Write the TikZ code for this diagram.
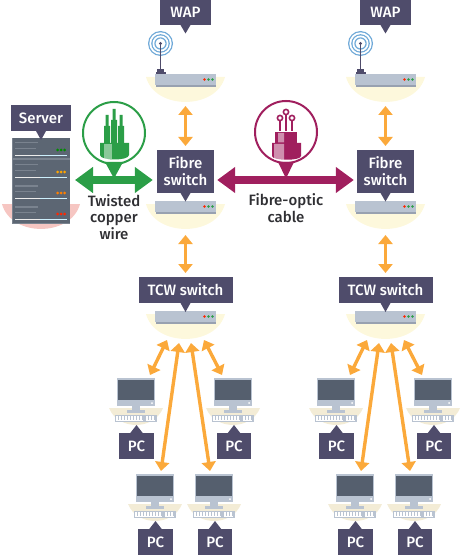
\documentclass[tikz,border=0pt]{standalone}
\usepackage{fontspec}
\setmainfont[BoldFont={Fira Sans Medium}]{Fira Sans}
\usetikzlibrary{arrows.meta}
\definecolor{lab}{HTML}{4F4C6B}
\definecolor{orangeA}{HTML}{FBA93B}
\definecolor{greenA}{HTML}{2B9E47}
\definecolor{purpA}{HTML}{A01F5E}
\definecolor{dev}{HTML}{B9C3D1}
\definecolor{devd}{HTML}{98A1B0}
\definecolor{bowlY}{HTML}{FDF8DC}
\definecolor{bowlP}{HTML}{F6C6C2}
\definecolor{bowlB}{HTML}{F3ECD6}
\definecolor{scr}{HTML}{555F6E}
\definecolor{rack}{HTML}{5C6673}
\definecolor{rackd}{HTML}{7A838F}
\definecolor{txt}{HTML}{2F2F33}
\definecolor{ringb}{HTML}{6FA9D8}
\tikzset{
  labelbox/.style={fill=lab,text=white,inner sep=0pt,align=center,font=\fontsize{15}{17}\selectfont\bfseries},
  plain/.style={text=txt,inner sep=0pt,align=center,font=\fontsize{15}{16.5}\selectfont\bfseries},
  orangearrow/.style={draw=orangeA,line width=3.4pt,{Triangle[length=9pt,width=14pt]}-{Triangle[length=9pt,width=14pt]}},
  bigarrow/.style={line width=8pt,{Triangle[length=18pt,width=25pt]}-{Triangle[length=18pt,width=25pt]}},
}
\newcommand{\bowlshape}[5]{\fill[#5] ({#1-#3},#2) .. controls ({#1-#3+9},{#2+#4*1.33}) and ({#1+#3-9},{#2+#4*1.33}) .. ({#1+#3},#2) -- cycle;}
\newcommand{\routerbody}[2]{%
  \bowlshape{#1}{#2+3}{39.5}{25}{bowlY}
  \fill[devd] ({#1-30},{#2+3}) rectangle ({#1+30},{#2+13}) ;
  \fill[dev] ({#1-30.5},#2) rectangle ({#1+30.5},{#2+11});
  \fill[red!70!orange] ({#1+19},{#2+5.5}) circle[radius=1.4pt];
  \fill[greenA] ({#1+23},{#2+5.5}) circle[radius=1.4pt];
  \fill[greenA] ({#1+27},{#2+5.5}) circle[radius=1.4pt];}
\newcommand{\tip}[4]{\fill[lab] ({#1-#3},#2) -- (#1,#4) -- ({#1+#3},#2) -- cycle;}
\newcommand{\pcunit}[4]{%
  \bowlshape{#2}{#3+30}{27}{17}{bowlB}
  \fill[dev] ({#2-4},{#3+27}) rectangle ({#2+4},{#3+33});
  \fill[dev] ({#2-9},{#3+32}) rectangle ({#2+9},{#3+35});
  \fill[dev] ({#2-19},#3) rectangle ({#2+19},{#3+28});
  \fill[scr] ({#2-18},{#3+1.5}) rectangle ({#2+18},{#3+22});
  \fill[white] ({#2+16},{#3+25}) circle[radius=1pt];
  \fill[dev] ({#2-21},{#3+37}) rectangle ({#2+21},{#3+44});
  \fill[white] ({#2-20},{#3+37.5}) rectangle ({#2+7},{#3+42.5});
  \fill[white] ({#2+10},{#3+37.5}) rectangle ({#2+19},{#3+42.5});
  \foreach \k in {-18,-15,...,6}{\fill[dev] ({#2+\k},{#3+38}) rectangle ({#2+\k+0.8},{#3+41.5});}
  \foreach \k in {12,15,18}{\fill[dev] ({#2+\k},{#3+38}) rectangle ({#2+\k+0.8},{#3+41.5});}
  \coordinate (#1port) at (#2,{#3-3});
  \node[labelbox,minimum width=34.5pt,minimum height=26pt] (#1) at (#4,{#3+68}) {PC};
  \fill[lab] ({#4-7},{#3+56}) -- (#4,{#3+47}) -- ({#4+7},{#3+56}) -- cycle;}
\newcommand{\wing}[1]{%
  \node[labelbox,minimum width=51pt,minimum height=26pt] (#1wap) at (185.5,12.5) {WAP};
  \tip{185.5}{25}{5}{33.5}
  \routerbody{185.5}{74}
  \foreach \r/\c in {12.5/ringb,11.2/white,9.3/ringb,8/white,6.2/ringb,5/white}{\fill[\c] (160.5,43.5) circle[radius=\r pt];}
  \draw[lab,line width=1.4pt] (160.5,43.5) -- (160.5,70);
  \fill[lab] (160.5,43.5) circle[radius=1.6pt];
  \fill[lab] (157,69) rectangle (164,72);
  \fill[lab] (155.5,72) rectangle (165.5,74.5);
  \coordinate (#1wapdown) at (185.5,106);
  \routerbody{185.5}{201}
  \node[labelbox,minimum width=57pt,minimum height=43pt] (#1fib) at (185.5,171.5) {Fibre\\switch};
  \tip{185.5}{193}{5}{201.5}
  \coordinate (#1fibup) at (185.5,146);
  \coordinate (#1fibdown) at (185.5,235);
  \routerbody{185.5}{311}
  \node[labelbox,minimum width=94pt,minimum height=26pt] (#1tcw) at (185.5,290) {TCW switch};
  \tip{185.5}{303}{5}{312}
  \coordinate (#1tcwup) at (185.5,273);
  \coordinate (#1a) at (167,340);
  \coordinate (#1b) at (179,343);
  \coordinate (#1c) at (191,343);
  \coordinate (#1d) at (204,340);
  \pcunit{#1p}{136}{378}{136.5}
  \pcunit{#1q}{233}{378}{234}
  \pcunit{#1r}{155}{474}{155.5}
  \pcunit{#1s}{214}{474}{215}
  \draw[orangearrow] (#1wapdown) -- (#1fibup);
  \draw[orangearrow] (#1fibdown) -- (#1tcwup);
  \draw[orangearrow] (#1a) -- ([xshift=14pt]#1pport);
  \draw[orangearrow] (#1d) -- ([xshift=-11pt]#1qport);
  \draw[orangearrow] (#1b) -- ([xshift=6pt]#1rport);
  \draw[orangearrow] (#1c) -- ([xshift=-4pt]#1sport);}
\begin{document}
\begin{tikzpicture}[x=1pt,y=-1pt]
\useasboundingbox (0,0) rectangle (464,556);
\wing{L}
\begin{scope}[shift={(200,0)}]
\wing{R}
\end{scope}
\bowlshape{41}{204}{39}{25}{bowlP}
\fill[rackd] (12,138) rectangle (70,224);
\foreach \t/\c in {138/green!55!black,160/orange!70!yellow,181/orange,202/red!70!orange}{
  \fill[rack] (12.5,\t) rectangle (69.5,{\t+20.5});
  \fill[rackd] (15,{\t+4}) rectangle (38,{\t+5.5});
  \fill[rackd] (15,{\t+10}) rectangle (36,{\t+11});
  \fill[white!85!gray] (15,{\t+17}) rectangle (40,{\t+18});
  \fill[cyan!20] (40,{\t+17}) rectangle (67,{\t+18});
  \fill[\c] (57.5,{\t+12}) circle[radius=1.5pt];
  \fill[\c] (61,{\t+12}) circle[radius=1.5pt];
  \fill[\c] (64.5,{\t+12}) circle[radius=1.5pt];
}
\node[labelbox,minimum width=60pt,minimum height=26pt] (server) at (41,118) {Server};
\tip{41}{131}{5}{140}
\coordinate (srv) at (75,180);
\draw[greenA,bigarrow] (srv) -- ([xshift=-4pt,yshift=-8.5pt]Lfib.west);
\node[draw=greenA,line width=2pt,fill=white,circle,minimum size=62pt,inner sep=0pt] (cop) at (114,133) {};
\fill[greenA] (105,162) -- (114,178.5) -- (123,162) -- cycle;
\fill[greenA] (105.5,115) rectangle (108.5,126) (112.5,109) rectangle (115.5,121) (119.5,115) rectangle (122.5,126);
\fill[greenA] (104,126) rectangle (110,143) (111,120) rectangle (117,143) (118,126) rectangle (124,143);
\fill[greenA] (100,143) -- (129,143) -- (129,155) .. controls (129,161) and (100,161) .. (100,155) -- cycle;
\fill[white,opacity=.45] (104,144.5) rectangle (112,159);
\node[plain] (coplab) at (114,217) {Twisted\\copper\\wire};
\draw[purpA,bigarrow] ([xshift=3pt,yshift=-8.5pt]Lfib.east) -- ([xshift=-3pt,yshift=-8.5pt]Rfib.west);
\node[draw=purpA,line width=2pt,fill=white,circle,minimum size=62pt,inner sep=0pt] (fop) at (286,132) {};
\fill[purpA] (278,162) -- (286,178.5) -- (294,162) -- cycle;
\foreach \x/\y in {280/118,286/112,292/118}{
  \draw[purpA,line width=1.8pt] (\x,{\y+3}) -- (\x,131);
  \draw[purpA,line width=1.6pt,fill=white] (\x,\y) circle[radius=2.6pt];}
\fill[purpA] (275,132) rectangle (297,143);
\fill[purpA] (272,143) -- (301,143) -- (301,156) .. controls (301,161) and (272,161) .. (272,156) -- cycle;
\fill[white,opacity=.5] (278,133) rectangle (284,142.5) (274,144) rectangle (284,160);
\node[plain] (foplab) at (286,208) {Fibre-optic\\cable};
\end{tikzpicture}
\end{document}
